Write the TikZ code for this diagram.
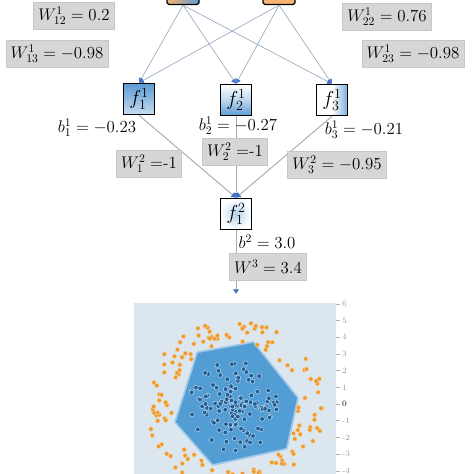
\documentclass[tikz,border=0pt]{standalone}
\usepackage{tikz}
\usetikzlibrary{positioning}
\usetikzlibrary{arrows.meta,shapes}
\usetikzlibrary{calc}
\definecolor{nodeblue}{HTML}{5B9BD5}
\definecolor{nodeorange}{HTML}{F8B36E}
\definecolor{boxgray}{HTML}{D6D6D6}
\definecolor{linegray}{HTML}{A9A9A9}
\definecolor{lineblue}{HTML}{8FA2BE}
\definecolor{tipblue}{HTML}{4472C4}
\definecolor{plotbg}{HTML}{DCE6EF}
\definecolor{hexblue}{HTML}{529DD4}
\definecolor{dotblue}{HTML}{1E5E96}
\definecolor{dotorange}{HTML}{EE9B2E}
\tikzstyle{neuron}=[draw=black,line width=1.3pt,minimum size=0.93cm,inner sep=0pt,font=\LARGE]
\tikzstyle{inneuron}=[draw=black,line width=1.1pt,rounded corners=1.5pt,minimum width=0.96cm,minimum height=0.93cm,inner sep=0pt]
\tikzstyle{wbox}=[fill=boxgray,draw=black!22,line width=0.6pt,minimum height=0.8cm,inner sep=4pt,font=\Large]
\tikzstyle{bias}=[font=\Large,inner sep=0pt]
\tikzstyle{edge} = [draw,lineblue,line width=0.5pt,-{Latex[length=4pt,width=5pt,color=tipblue]}]
\tikzstyle{outedge} = [draw,linegray,line width=0.8pt,-{Latex[length=4pt,width=6pt,color=tipblue]}]
\tikzstyle{tick} = [font=\scriptsize,text=black!40,inner sep=0pt,anchor=west]

\begin{document}
\begin{tikzpicture}[x=0.03cm,y=-0.03cm]
    \useasboundingbox (0,0) rectangle (474,474);

    % input layer (cut off at the top)
    \node[inneuron,left color=nodeorange,right color=nodeblue] (inL) at (183,-11) {};
    \node[inneuron,fill=nodeorange] (inR) at (279,-11) {};

    % hidden layer
    \node[neuron,top color=nodeblue,bottom color=nodeblue!35] (f11) at (139,99) {$f_1^1$};
    \node[neuron,top color=white,bottom color=nodeblue,middle color=white!60!nodeblue] (f21) at (236,100) {$f_2^1$};
    \node[neuron,shading=axis,shading angle=135,left color=white,right color=nodeblue!80,middle color=white] (f31) at (332,100) {$f_3^1$};
    \node[neuron,inner color=nodeblue!45,outer color=white] (f12) at (236,214) {$f_1^2$};
    \coordinate (out) at (236,294);

    \foreach \source in {inL,inR}
        \foreach \dest in {f11,f21,f31}
            \path[edge] (\source.south) -- (\dest.north);

    \foreach \source in {f11,f21,f31}
        \path[outedge] (\source.south) -- (f12.north);
    \path[outedge] (f12.south) -- (out);

    % weights
    \foreach \pos/\name/\label in {{(74,16)/w112/W_{12}^1 = 0.2}, {(57,54)/w113/W_{13}^1 = -0.98},
        {(387,17)/w122/W_{22}^1 = 0.76}, {(413,54)/w123/W_{23}^1 = -0.98}}
        \node[wbox] (\name) at \pos {$\label$};

    \foreach \pos/\name/\label in {{(149,164)/w21/W_1^2 \;\mbox{=-1}}, {(235,152)/w22/W_2^2 \;\mbox{=-1}},
        {(337,165)/w23/W_3^2 = -0.95}, {(268,267)/w3/W^3 = 3.4}}
        \node[wbox] (\name) at \pos {$\label$};

    % biases
    \node[bias] (b11) at (97,128) {$b_1^1 = -0.23$};
    \node[bias] (b21) at (238,126) {$b_2^1 = -0.27$};
    \node[bias] (b31) at (364,130) {$b_3^1 = -0.21$};
    \node[bias] (b2) at (267,242) {$b^2 = 3.0$};

    % decision surface
    \fill[plotbg] (134,303) rectangle (336,474);
    \begin{scope}
        \clip (134,303) rectangle (336,474);
        \fill[hexblue!55,draw=hexblue!55,line width=3pt,line join=round]
            (198,353) -- (253,343) -- (297,398) -- (286,448) -- (213,464) -- (176,422) -- cycle;
        \fill[hexblue]
            (198,353) -- (253,343) -- (297,398) -- (286,448) -- (213,464) -- (176,422) -- cycle;
        \pgfmathsetseed{11}
        \foreach \i in {1,...,150}{
            \pgfmathsetmacro\r{63+26*rnd}
            \pgfmathsetmacro\a{360*rnd}
            \filldraw[fill=dotorange,draw=white!60!dotorange,line width=0.3pt]
                ($(235,405)+(\a:\r)$) circle (1.9pt);
        }
        \foreach \i in {1,...,140}{
            \pgfmathsetmacro\r{46*rnd^0.8}
            \pgfmathsetmacro\a{360*rnd}
            \filldraw[fill=dotblue,draw=white!70!hexblue,line width=0.35pt]
                ($(234,405)+(\a:\r)$) circle (2pt);
        }
    \end{scope}

    \foreach \k in {-4,...,6}{
        \draw[black!30,line width=0.4pt] (336,404-16.7*\k) -- (340,404-16.7*\k);
        \node[tick] (t\k) at (342,404-16.7*\k) {\k};
    }
    \node[tick,text=black!70] at (342,404) {0};
\end{tikzpicture}
\end{document}
